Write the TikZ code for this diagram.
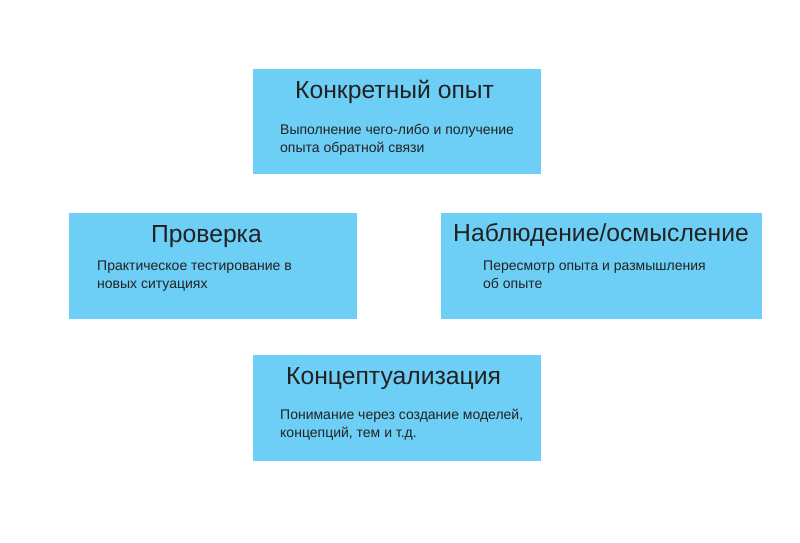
\documentclass[tikz,border=0pt]{standalone}
\usepackage{fontspec}
\setmainfont{Liberation Sans}
\definecolor{boxblue}{HTML}{6DCFF6}
\definecolor{ink}{HTML}{222222}
\tikzset{
  box/.style={fill=boxblue, draw=none},
  title/.style={anchor=base west, inner sep=0pt, text=ink, font=\fontsize{24.7}{28}\selectfont},
  body/.style={anchor=base west, inner sep=0pt, text=ink, font=\fontsize{14}{17.5}\selectfont, align=left},
}
\begin{document}
\begin{tikzpicture}[x=1pt,y=-1pt]
\useasboundingbox (0,0) rectangle (800,543);
\fill[box] (253,69) rectangle (541,174) coordinate (b1);
\fill[box] (69,213) rectangle (357,319) coordinate (b2);
\fill[box] (441,213) rectangle (762,319) coordinate (b3);
\fill[box] (253,355) rectangle (541,461) coordinate (b4);
\node[title] (t1) at (295,98) {Конкретный опыт};
\node[body] (d1) at (280,134) {Выполнение чего-либо и получение};
\node[body] (d1b) at (280,152) {опыта обратной связи};
\node[title] (t2) at (151,242) {Проверка};
\node[body] (d2) at (97,270) {Практическое тестирование в};
\node[body] (d2b) at (97,288) {новых ситуациях};
\node[title] (t3) at (453,241) {Наблюдение/осмысление};
\node[body] (d3) at (483,270) {Пересмотр опыта и размышления};
\node[body] (d3b) at (483,288) {об опыте};
\node[title] (t4) at (286,384) {Концептуализация};
\node[body] (d4) at (280,419) {Понимание через создание моделей,};
\node[body] (d4b) at (280,437) {концепций, тем и т.д.};
\end{tikzpicture}
\end{document}
